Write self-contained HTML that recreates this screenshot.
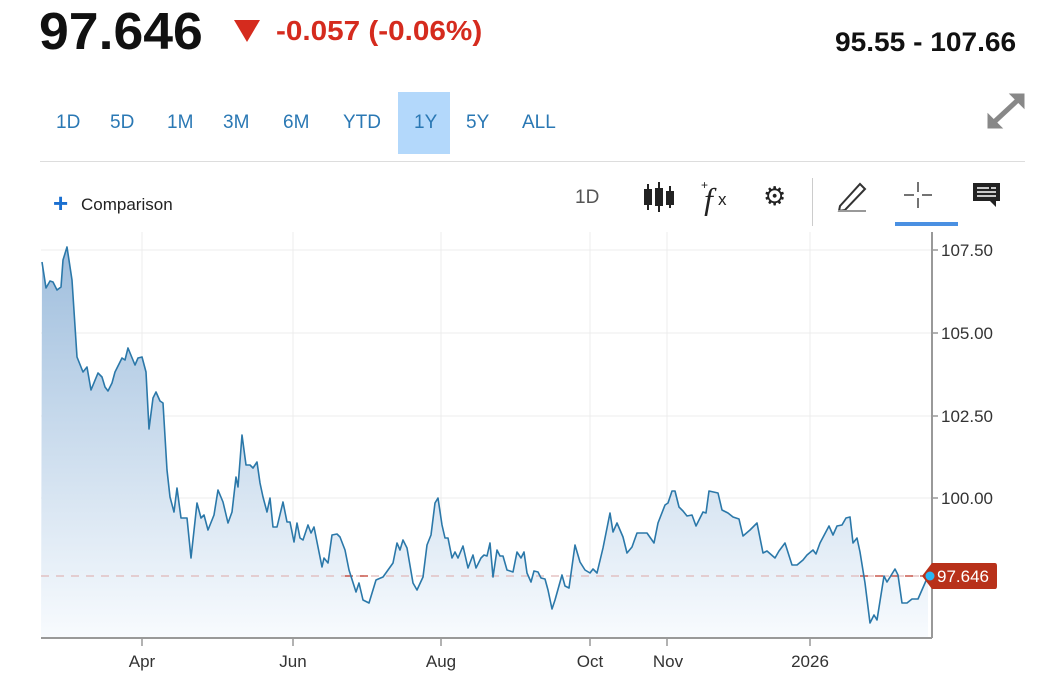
<!DOCTYPE html>
<html><head><meta charset="utf-8"><style>
body{margin:0;width:1044px;height:680px;background:#fff;font-family:"Liberation Sans",sans-serif;overflow:hidden;position:relative}
.a{position:absolute;white-space:nowrap}
.tab{position:absolute;top:112px;font-size:19px;color:#2a78b4}
</style></head><body>
<div class="a" style="left:39px;top:2px;font-size:52px;font-weight:bold;color:#111;transform:scaleX(1.03);transform-origin:left">97.646</div>
<svg class="a" style="left:232px;top:18px" width="30" height="26"><polygon points="2,2 28,2 15,24" fill="#d52b1e"/></svg>
<div class="a" style="left:276px;top:15px;font-size:28px;font-weight:bold;color:#d52b1e;transform:scaleX(1.06);transform-origin:left">-0.057 (-0.06%)</div>
<div class="a" style="left:835px;top:27px;font-size:27px;font-weight:bold;color:#111;transform:scaleX(1.04);transform-origin:left">95.55 - 107.66</div>
<div class="a" style="left:398px;top:92px;width:52px;height:62px;background:#b3d8fb"></div>
<div class="tab" style="left:56px">1D</div><div class="tab" style="left:110px">5D</div><div class="tab" style="left:167px">1M</div><div class="tab" style="left:223px">3M</div><div class="tab" style="left:283px">6M</div><div class="tab" style="left:343px">YTD</div><div class="tab" style="left:414px">1Y</div><div class="tab" style="left:466px">5Y</div><div class="tab" style="left:522px">ALL</div>
<svg class="a" style="left:984px;top:90px" width="44" height="42"><g stroke="#888" stroke-width="5" fill="#888"><line x1="8" y1="34" x2="36" y2="8"/><polygon points="40,4 40,18 26,4" stroke-width="1"/><polygon points="4,38 4,24 18,38" stroke-width="1"/></g></svg>
<div class="a" style="left:40px;top:161px;width:985px;height:1px;background:#ddd"></div>
<div class="a" style="left:53px;top:188px;font-size:26px;color:#1a6fd0;font-weight:bold">+</div>
<div class="a" style="left:81px;top:195px;font-size:17px;color:#222">Comparison</div>
<div class="a" style="left:575px;top:187px;font-size:19px;color:#555">1D</div>
<svg class="a" style="left:640px;top:180px" width="40" height="34"><g stroke="#222" stroke-width="2"><line x1="8" y1="4" x2="8" y2="30"/><line x1="19" y1="2" x2="19" y2="32"/><line x1="30" y1="6" x2="30" y2="28"/></g><rect x="4" y="9" width="8" height="16" fill="#222"/><rect x="15" y="8" width="8" height="18" fill="#222"/><rect x="26" y="11" width="8" height="14" fill="#222"/></svg>
<svg class="a" style="left:700px;top:178px" width="36" height="38"><text x="4" y="32" font-family="Liberation Serif" font-style="italic" font-size="32" fill="#222">f</text><text x="18" y="27" font-family="Liberation Sans" font-size="17" fill="#222">x</text><text x="1" y="11" font-family="Liberation Sans" font-size="12" fill="#222">+</text></svg>
<div class="a" style="left:763px;top:181px;font-size:26px;color:#222">⚙</div>
<div class="a" style="left:812px;top:178px;width:1px;height:48px;background:#ccc"></div>
<svg class="a" style="left:834px;top:180px" width="36" height="32"><path d="M6 26 L26 4 L31 9 L11 30 L5 31 Z" fill="none" stroke="#333" stroke-width="2"/><line x1="4" y1="31" x2="32" y2="31" stroke="#999" stroke-width="2"/></svg>
<svg class="a" style="left:902px;top:180px" width="32" height="30"><g stroke="#444" stroke-width="1.5"><line x1="16" y1="2" x2="16" y2="12"/><line x1="16" y1="18" x2="16" y2="28"/><line x1="2" y1="15" x2="12" y2="15"/><line x1="20" y1="15" x2="30" y2="15"/></g></svg>
<div class="a" style="left:895px;top:222px;width:63px;height:4px;background:#4a90e2"></div>
<svg class="a" style="left:972px;top:182px" width="30" height="26"><path d="M1 1 H28 V19 H24 V25 L18 19 H1 Z" fill="#222"/><g stroke="#fff" stroke-width="1.5"><line x1="5" y1="6" x2="17" y2="6"/><line x1="5" y1="10" x2="24" y2="10"/><line x1="5" y1="14" x2="24" y2="14"/><line x1="19" y1="6" x2="24" y2="6"/></g></svg>

<svg class="a" style="left:0;top:0" width="1044" height="680">
<defs><linearGradient id="g" gradientUnits="userSpaceOnUse" x1="0" y1="247" x2="0" y2="638"><stop offset="0" stop-color="#9fbedd"/><stop offset="1" stop-color="#f8fbfe"/></linearGradient></defs>
<g stroke="#ececec" stroke-width="1">
<line x1="41" y1="250" x2="932" y2="250"/><line x1="41" y1="333" x2="932" y2="333"/><line x1="41" y1="416" x2="932" y2="416"/><line x1="41" y1="498" x2="932" y2="498"/>
<line x1="142" y1="232" x2="142" y2="638"/><line x1="293" y1="232" x2="293" y2="638"/><line x1="441" y1="232" x2="441" y2="638"/><line x1="590" y1="232" x2="590" y2="638"/><line x1="667" y1="232" x2="667" y2="638"/><line x1="810" y1="232" x2="810" y2="638"/>
</g>
<polygon fill="url(#g)" points="41,638 42,262 46,288 50,281 53,282 57,290 61,287 63,260 67,247 72,280 77,357 83,372 87,367 91,390 98,373 102,377 105,387 108,391 112,383 115,372 122,358 125,360 128,348 135,365 138,358 142,357 146,372 149,429 153,398 156,392 160,401 163,403 167,470 170,497 174,512 177,488 181,518 187,518 191,558 197,503 201,518 204,515 208,530 214,515 218,490 223,502 228,523 232,512 236,477 238,487 242,435 246,465 250,465 253,468 257,462 260,483 263,497 267,512 270,498 273,527 277,527 283,502 287,522 290,522 294,542 297,523 300,538 303,540 308,525 311,533 314,527 322,567 324,558 328,563 332,535 337,534 340,537 345,550 349,570 356,592 359,583 363,600 369,603 376,580 383,577 393,563 397,543 400,550 403,540 407,548 413,583 417,590 423,577 427,545 431,535 435,503 438,498 442,525 445,538 448,538 452,558 455,552 458,558 463,546 468,568 473,555 476,568 481,558 484,555 487,556 490,543 493,577 497,550 500,556 503,556 507,570 513,572 517,552 521,558 524,552 527,573 531,582 534,571 538,572 541,578 545,579 548,590 552,609 555,600 562,575 565,586 569,588 575,545 580,562 585,570 590,573 593,569 597,573 603,548 606,533 610,513 613,532 617,523 623,537 627,553 632,547 637,533 647,533 654,543 658,523 665,505 668,503 672,491 675,491 679,507 683,511 687,516 692,515 696,526 703,512 706,513 709,491 718,493 722,510 728,513 733,517 739,519 743,536 750,530 757,523 763,553 767,551 775,558 779,551 785,543 792,565 797,565 803,560 807,555 813,550 816,554 820,543 829,526 833,535 837,526 842,525 846,518 850,517 853,543 857,538 860,552 865,583 870,623 874,615 877,620 884,576 887,582 895,569 898,575 902,603 907,603 912,599 918,599 925,583 928,576 928,638"/>
<line x1="41" y1="576" x2="925" y2="576" stroke="#e0b8b8" stroke-width="1.2" stroke-dasharray="8,7"/>
<line x1="345" y1="576" x2="375" y2="576" stroke="#c0392b" stroke-width="1.2" stroke-dasharray="8,7"/>
<line x1="860" y1="576" x2="925" y2="576" stroke="#c0392b" stroke-width="1.2" stroke-dasharray="8,7"/>
<polyline fill="none" stroke="#2b78a9" stroke-width="1.6" stroke-linejoin="round" points="42,262 46,288 50,281 53,282 57,290 61,287 63,260 67,247 72,280 77,357 83,372 87,367 91,390 98,373 102,377 105,387 108,391 112,383 115,372 122,358 125,360 128,348 135,365 138,358 142,357 146,372 149,429 153,398 156,392 160,401 163,403 167,470 170,497 174,512 177,488 181,518 187,518 191,558 197,503 201,518 204,515 208,530 214,515 218,490 223,502 228,523 232,512 236,477 238,487 242,435 246,465 250,465 253,468 257,462 260,483 263,497 267,512 270,498 273,527 277,527 283,502 287,522 290,522 294,542 297,523 300,538 303,540 308,525 311,533 314,527 322,567 324,558 328,563 332,535 337,534 340,537 345,550 349,570 356,592 359,583 363,600 369,603 376,580 383,577 393,563 397,543 400,550 403,540 407,548 413,583 417,590 423,577 427,545 431,535 435,503 438,498 442,525 445,538 448,538 452,558 455,552 458,558 463,546 468,568 473,555 476,568 481,558 484,555 487,556 490,543 493,577 497,550 500,556 503,556 507,570 513,572 517,552 521,558 524,552 527,573 531,582 534,571 538,572 541,578 545,579 548,590 552,609 555,600 562,575 565,586 569,588 575,545 580,562 585,570 590,573 593,569 597,573 603,548 606,533 610,513 613,532 617,523 623,537 627,553 632,547 637,533 647,533 654,543 658,523 665,505 668,503 672,491 675,491 679,507 683,511 687,516 692,515 696,526 703,512 706,513 709,491 718,493 722,510 728,513 733,517 739,519 743,536 750,530 757,523 763,553 767,551 775,558 779,551 785,543 792,565 797,565 803,560 807,555 813,550 816,554 820,543 829,526 833,535 837,526 842,525 846,518 850,517 853,543 857,538 860,552 865,583 870,623 874,615 877,620 884,576 887,582 895,569 898,575 902,603 907,603 912,599 918,599 925,583 928,576"/>
<g stroke="#999" stroke-width="2"><line x1="41" y1="638" x2="932" y2="638"/><line x1="932" y1="232" x2="932" y2="638"/></g>
<g stroke="#999" stroke-width="1.5"><line x1="142" y1="638" x2="142" y2="646"/><line x1="293" y1="638" x2="293" y2="646"/><line x1="441" y1="638" x2="441" y2="646"/><line x1="590" y1="638" x2="590" y2="646"/><line x1="667" y1="638" x2="667" y2="646"/><line x1="810" y1="638" x2="810" y2="646"/>
<line x1="932" y1="250" x2="938" y2="250"/><line x1="932" y1="333" x2="938" y2="333"/><line x1="932" y1="416" x2="938" y2="416"/><line x1="932" y1="498" x2="938" y2="498"/></g>
<g font-family="Liberation Sans" font-size="17" fill="#333" text-anchor="middle">
<text x="142" y="667">Apr</text><text x="293" y="667">Jun</text><text x="441" y="667">Aug</text><text x="590" y="667">Oct</text><text x="668" y="667">Nov</text><text x="810" y="667">2026</text></g>
<g font-family="Liberation Sans" font-size="17" fill="#333">
<text x="941" y="256">107.50</text><text x="941" y="339">105.00</text><text x="941" y="422">102.50</text><text x="941" y="504">100.00</text></g>
<path d="M922 576 L932 563 H995 Q997 563 997 566 V586 Q997 589 995 589 H932 Z" fill="#b8311a"/>
<circle cx="930" cy="576" r="4.5" fill="#29b6f6"/>
<text x="937" y="582" font-family="Liberation Sans" font-size="17" fill="#fff">97.646</text>
</svg>
</body></html>
